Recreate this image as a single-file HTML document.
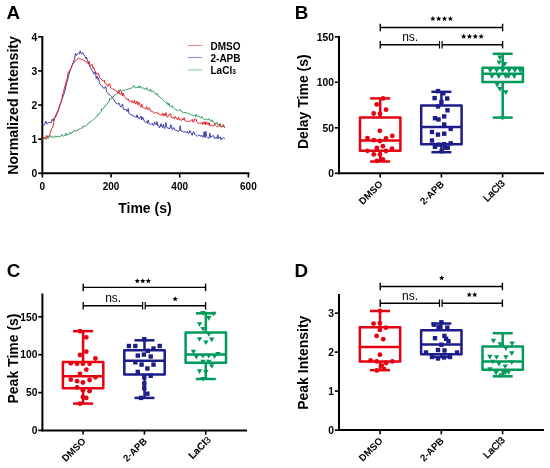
<!DOCTYPE html>
<html><head><meta charset="utf-8"><style>
html,body{margin:0;padding:0;background:#fff;}
body{width:550px;height:468px;overflow:hidden;}
svg{display:block;font-family:"Liberation Sans", sans-serif;will-change:transform;}
</style></head><body>
<svg width="550" height="468" viewBox="0 0 550 468">
<rect width="550" height="468" fill="#fff"/>
<line x1="42.30" y1="36.00" x2="42.30" y2="174.30" stroke="#000" stroke-width="2.0"/>
<line x1="38.10" y1="36.80" x2="42.30" y2="36.80" stroke="#000" stroke-width="1.6"/>
<text x="37.30" y="40.50" font-size="10.3" font-weight="bold" text-anchor="end" fill="#000">4</text>
<line x1="38.10" y1="70.90" x2="42.30" y2="70.90" stroke="#000" stroke-width="1.6"/>
<text x="37.30" y="74.60" font-size="10.3" font-weight="bold" text-anchor="end" fill="#000">3</text>
<line x1="38.10" y1="105.00" x2="42.30" y2="105.00" stroke="#000" stroke-width="1.6"/>
<text x="37.30" y="108.70" font-size="10.3" font-weight="bold" text-anchor="end" fill="#000">2</text>
<line x1="38.10" y1="139.20" x2="42.30" y2="139.20" stroke="#000" stroke-width="1.6"/>
<text x="37.30" y="142.90" font-size="10.3" font-weight="bold" text-anchor="end" fill="#000">1</text>
<line x1="38.10" y1="173.30" x2="42.30" y2="173.30" stroke="#000" stroke-width="1.6"/>
<text x="37.30" y="177.00" font-size="10.3" font-weight="bold" text-anchor="end" fill="#000">0</text>
<line x1="41.30" y1="173.30" x2="249.40" y2="173.30" stroke="#000" stroke-width="2.0"/>
<line x1="42.40" y1="173.30" x2="42.40" y2="177.50" stroke="#000" stroke-width="1.6"/>
<line x1="111.10" y1="173.30" x2="111.10" y2="177.50" stroke="#000" stroke-width="1.6"/>
<line x1="179.70" y1="173.30" x2="179.70" y2="177.50" stroke="#000" stroke-width="1.6"/>
<line x1="248.40" y1="173.30" x2="248.40" y2="177.50" stroke="#000" stroke-width="1.6"/>
<text x="42.40" y="189.50" font-size="10" font-weight="bold" text-anchor="middle" fill="#000">0</text>
<text x="111.10" y="189.50" font-size="10" font-weight="bold" text-anchor="middle" fill="#000">200</text>
<text x="179.70" y="189.50" font-size="10" font-weight="bold" text-anchor="middle" fill="#000">400</text>
<text x="248.40" y="189.50" font-size="10" font-weight="bold" text-anchor="middle" fill="#000">600</text>
<text x="118.20" y="213.30" font-size="14" font-weight="bold" text-anchor="start" fill="#000">Time (s)</text>
<text x="0.00" y="0.00" font-size="14.2" font-weight="bold" text-anchor="start" fill="#000" transform="translate(17.90,174.80) rotate(-90)">Normalized Intensity</text>
<text x="6.60" y="18.90" font-size="18.8" font-weight="bold" text-anchor="start" fill="#000">A</text>
<line x1="187.80" y1="45.50" x2="202.30" y2="45.50" stroke="#f28890" stroke-width="1.1"/>
<text x="210.50" y="49.50" font-size="10" font-weight="bold" text-anchor="start" fill="#000">DMSO</text>
<line x1="187.80" y1="57.50" x2="202.30" y2="57.50" stroke="#9090dc" stroke-width="1.1"/>
<text x="210.50" y="61.50" font-size="10" font-weight="bold" text-anchor="start" fill="#000">2-APB</text>
<line x1="187.80" y1="69.90" x2="202.30" y2="69.90" stroke="#90d0a0" stroke-width="1.1"/>
<text x="210.50" y="73.90" font-size="10" font-weight="bold" text-anchor="start" fill="#000">LaCl<tspan font-size="6.5" font-weight="bold">3</tspan></text>
<path d="M42.60,139.43 L43.40,139.62 L44.20,137.00 L45.00,138.85 L45.80,138.87 L46.60,139.60 L47.40,136.27 L48.20,138.37 L49.00,137.66 L49.80,136.01 L50.60,135.58 L51.40,137.54 L52.20,137.40 L53.00,136.77 L53.80,136.83 L54.60,137.46 L55.40,135.85 L56.20,136.80 L57.00,136.39 L57.80,136.82 L58.60,136.33 L59.40,136.60 L60.20,136.68 L61.00,135.93 L61.80,134.48 L62.60,135.92 L63.40,136.15 L64.20,135.49 L65.00,135.78 L65.80,133.06 L66.60,135.24 L67.40,134.80 L68.20,134.64 L69.00,134.39 L69.80,132.41 L70.60,133.62 L71.40,133.73 L72.20,132.14 L73.00,132.28 L73.80,130.80 L74.60,130.13 L75.40,131.36 L76.20,130.44 L77.00,131.04 L77.80,129.60 L78.60,129.65 L79.40,128.77 L80.20,128.61 L81.00,127.94 L81.80,128.18 L82.60,127.94 L83.40,125.64 L84.20,126.74 L85.00,126.37 L85.80,126.27 L86.60,125.38 L87.40,124.29 L88.20,123.23 L89.00,122.93 L89.80,121.94 L90.60,121.75 L91.40,121.18 L92.20,120.37 L93.00,120.24 L93.80,119.25 L94.60,118.46 L95.40,117.75 L96.20,117.32 L97.00,116.50 L97.80,114.28 L98.60,114.08 L99.40,113.85 L100.20,112.49 L101.00,111.59 L101.80,108.51 L102.60,109.43 L103.40,108.58 L104.20,106.86 L105.00,106.56 L105.80,105.02 L106.60,104.61 L107.40,103.63 L108.20,102.27 L109.00,101.70 L109.80,98.46 L110.60,99.35 L111.40,98.75 L112.20,97.40 L113.00,96.77 L113.80,96.47 L114.60,95.02 L115.40,94.54 L116.20,94.22 L117.00,93.32 L117.80,93.27 L118.60,92.51 L119.40,92.53 L120.20,89.42 L121.00,91.51 L121.80,91.30 L122.60,90.16 L123.40,90.82 L124.20,90.16 L125.00,90.51 L125.80,89.54 L126.60,89.56 L127.40,89.39 L128.20,89.35 L129.00,88.64 L129.80,88.33 L130.60,88.40 L131.40,88.07 L132.20,87.53 L133.00,86.75 L133.80,85.42 L134.60,87.52 L135.40,87.74 L136.20,87.64 L137.00,87.23 L137.80,87.85 L138.60,85.96 L139.40,87.80 L140.20,86.04 L141.00,87.68 L141.80,87.94 L142.60,87.87 L143.40,88.17 L144.20,88.83 L145.00,88.59 L145.80,89.49 L146.60,87.59 L147.40,89.72 L148.20,90.67 L149.00,90.08 L149.80,91.04 L150.60,89.19 L151.40,91.47 L152.20,91.68 L153.00,90.88 L153.80,91.48 L154.60,92.34 L155.40,93.93 L156.20,94.63 L157.00,93.24 L157.80,95.52 L158.60,95.86 L159.40,96.98 L160.20,97.47 L161.00,98.10 L161.80,98.65 L162.60,99.81 L163.40,100.44 L164.20,101.13 L165.00,102.09 L165.80,102.68 L166.60,103.15 L167.40,102.44 L168.20,105.26 L169.00,103.31 L169.80,106.30 L170.60,106.36 L171.40,106.69 L172.20,105.73 L173.00,107.87 L173.80,108.13 L174.60,108.90 L175.40,109.35 L176.20,109.84 L177.00,109.97 L177.80,110.65 L178.60,110.38 L179.40,110.44 L180.20,109.41 L181.00,111.49 L181.80,111.69 L182.60,112.08 L183.40,112.66 L184.20,113.07 L185.00,112.05 L185.80,112.97 L186.60,112.64 L187.40,113.43 L188.20,113.55 L189.00,113.13 L189.80,114.19 L190.60,114.87 L191.40,114.79 L192.20,114.73 L193.00,115.35 L193.80,115.86 L194.60,115.66 L195.40,116.54 L196.20,114.17 L197.00,116.32 L197.80,116.45 L198.60,115.86 L199.40,116.89 L200.20,117.60 L201.00,118.00 L201.80,116.56 L202.60,118.15 L203.40,118.35 L204.20,119.32 L205.00,119.40 L205.80,119.25 L206.60,119.25 L207.40,119.83 L208.20,119.78 L209.00,118.59 L209.80,120.43 L210.60,121.07 L211.40,121.13 L212.20,119.65 L213.00,122.04 L213.80,121.88 L214.60,123.68 L215.40,123.28 L216.20,123.78 L217.00,122.37 L217.80,124.77 L218.60,124.43 L219.40,125.07 L220.20,123.44 L221.00,126.21 L221.80,126.13 L222.60,126.12 L223.40,126.20 L224.20,126.87 L225.00,126.35" fill="none" stroke="#2a9a60" stroke-width="1.0" stroke-linejoin="round"/>
<path d="M42.60,125.86 L43.40,125.57 L44.20,124.99 L45.00,123.85 L45.80,121.06 L46.60,123.72 L47.40,123.68 L48.20,122.67 L49.00,122.02 L49.80,123.15 L50.60,122.60 L51.40,122.51 L52.20,119.25 L53.00,120.92 L53.80,118.31 L54.60,117.73 L55.40,116.57 L56.20,114.15 L57.00,112.87 L57.80,110.30 L58.60,108.81 L59.40,106.40 L60.20,103.89 L61.00,102.14 L61.80,99.28 L62.60,97.64 L63.40,95.70 L64.20,93.03 L65.00,90.34 L65.80,86.86 L66.60,83.94 L67.40,80.63 L68.20,77.82 L69.00,74.26 L69.80,71.64 L70.60,69.59 L71.40,67.12 L72.20,65.10 L73.00,62.85 L73.80,60.88 L74.60,59.15 L75.40,53.48 L76.20,55.57 L77.00,54.86 L77.80,53.51 L78.60,53.51 L79.40,53.74 L80.20,50.77 L81.00,53.56 L81.80,53.85 L82.60,52.33 L83.40,54.36 L84.20,55.03 L85.00,56.36 L85.80,58.52 L86.60,57.22 L87.40,60.69 L88.20,62.37 L89.00,64.62 L89.80,65.96 L90.60,67.91 L91.40,68.81 L92.20,70.49 L93.00,72.34 L93.80,74.14 L94.60,72.19 L95.40,71.66 L96.20,78.46 L97.00,76.15 L97.80,79.27 L98.60,78.38 L99.40,82.84 L100.20,84.53 L101.00,84.79 L101.80,85.67 L102.60,86.98 L103.40,88.06 L104.20,88.39 L105.00,87.10 L105.80,86.78 L106.60,91.62 L107.40,92.67 L108.20,93.53 L109.00,94.63 L109.80,94.90 L110.60,95.63 L111.40,96.51 L112.20,96.99 L113.00,98.72 L113.80,99.69 L114.60,101.21 L115.40,102.23 L116.20,103.46 L117.00,103.61 L117.80,104.47 L118.60,103.04 L119.40,103.36 L120.20,106.25 L121.00,107.13 L121.80,105.79 L122.60,103.91 L123.40,109.42 L124.20,109.15 L125.00,109.79 L125.80,108.98 L126.60,111.10 L127.40,111.37 L128.20,108.47 L129.00,113.63 L129.80,113.91 L130.60,114.33 L131.40,115.31 L132.20,114.75 L133.00,115.92 L133.80,116.27 L134.60,116.29 L135.40,116.89 L136.20,117.63 L137.00,114.82 L137.80,117.84 L138.60,117.37 L139.40,119.18 L140.20,117.58 L141.00,116.03 L141.80,120.01 L142.60,117.09 L143.40,118.33 L144.20,121.12 L145.00,121.61 L145.80,122.64 L146.60,121.56 L147.40,123.29 L148.20,119.91 L149.00,123.71 L149.80,123.97 L150.60,124.83 L151.40,124.18 L152.20,123.36 L153.00,125.44 L153.80,124.99 L154.60,121.92 L155.40,124.34 L156.20,124.89 L157.00,121.62 L157.80,125.81 L158.60,125.10 L159.40,127.93 L160.20,126.85 L161.00,123.65 L161.80,126.37 L162.60,127.56 L163.40,124.16 L164.20,128.16 L165.00,128.44 L165.80,122.51 L166.60,126.90 L167.40,127.23 L168.20,128.66 L169.00,127.84 L169.80,129.01 L170.60,124.95 L171.40,125.29 L172.20,129.62 L173.00,129.07 L173.80,127.54 L174.60,129.80 L175.40,130.21 L176.20,130.50 L177.00,130.10 L177.80,131.34 L178.60,131.33 L179.40,130.79 L180.20,125.76 L181.00,131.22 L181.80,131.08 L182.60,131.07 L183.40,132.25 L184.20,132.07 L185.00,131.34 L185.80,132.45 L186.60,132.71 L187.40,131.35 L188.20,133.53 L189.00,133.36 L189.80,130.45 L190.60,131.44 L191.40,133.67 L192.20,135.42 L193.00,132.10 L193.80,131.75 L194.60,134.51 L195.40,134.43 L196.20,135.25 L197.00,136.41 L197.80,135.76 L198.60,135.21 L199.40,134.97 L200.20,136.05 L201.00,136.26 L201.80,135.23 L202.60,137.12 L203.40,136.75 L204.20,131.76 L205.00,137.63 L205.80,131.27 L206.60,136.63 L207.40,137.41 L208.20,138.39 L209.00,138.06 L209.80,133.07 L210.60,137.70 L211.40,136.15 L212.20,136.56 L213.00,135.36 L213.80,136.23 L214.60,138.77 L215.40,137.95 L216.20,137.20 L217.00,138.69 L217.80,134.73 L218.60,138.67 L219.40,137.95 L220.20,136.80 L221.00,139.73 L221.80,138.10 L222.60,138.16 L223.40,137.91 L224.20,138.18 L225.00,138.96" fill="none" stroke="#3a3aa8" stroke-width="1.0" stroke-linejoin="round"/>
<path d="M42.60,139.89 L43.40,137.21 L44.20,138.42 L45.00,137.56 L45.80,138.30 L46.60,135.25 L47.40,137.37 L48.20,136.83 L49.00,135.67 L49.80,134.01 L50.60,132.10 L51.40,128.77 L52.20,128.17 L53.00,126.41 L53.80,122.65 L54.60,116.87 L55.40,117.40 L56.20,115.93 L57.00,114.24 L57.80,111.75 L58.60,109.43 L59.40,106.64 L60.20,104.92 L61.00,102.55 L61.80,99.80 L62.60,94.16 L63.40,92.76 L64.20,88.90 L65.00,86.02 L65.80,82.93 L66.60,80.05 L67.40,77.75 L68.20,71.95 L69.00,72.20 L69.80,70.14 L70.60,68.41 L71.40,67.27 L72.20,65.05 L73.00,63.97 L73.80,63.12 L74.60,61.36 L75.40,60.70 L76.20,60.43 L77.00,59.20 L77.80,58.86 L78.60,58.21 L79.40,58.53 L80.20,58.88 L81.00,59.21 L81.80,59.70 L82.60,59.46 L83.40,60.56 L84.20,60.77 L85.00,61.44 L85.80,61.49 L86.60,62.25 L87.40,63.15 L88.20,63.35 L89.00,61.00 L89.80,64.60 L90.60,65.75 L91.40,65.22 L92.20,64.20 L93.00,68.32 L93.80,67.11 L94.60,70.77 L95.40,71.64 L96.20,72.85 L97.00,73.94 L97.80,74.29 L98.60,73.34 L99.40,77.49 L100.20,77.98 L101.00,79.12 L101.80,79.69 L102.60,80.60 L103.40,81.11 L104.20,80.11 L105.00,83.40 L105.80,83.50 L106.60,84.18 L107.40,85.93 L108.20,86.09 L109.00,83.48 L109.80,84.21 L110.60,87.70 L111.40,88.22 L112.20,88.51 L113.00,89.50 L113.80,89.05 L114.60,90.31 L115.40,90.75 L116.20,90.38 L117.00,91.58 L117.80,93.12 L118.60,90.21 L119.40,94.05 L120.20,93.64 L121.00,94.65 L121.80,91.98 L122.60,96.04 L123.40,93.39 L124.20,96.53 L125.00,97.25 L125.80,98.03 L126.60,99.36 L127.40,99.49 L128.20,98.75 L129.00,101.10 L129.80,101.42 L130.60,101.39 L131.40,102.38 L132.20,100.51 L133.00,102.78 L133.80,102.66 L134.60,100.22 L135.40,104.09 L136.20,103.08 L137.00,101.12 L137.80,105.14 L138.60,102.62 L139.40,102.52 L140.20,105.75 L141.00,107.25 L141.80,104.24 L142.60,106.77 L143.40,108.06 L144.20,108.14 L145.00,108.47 L145.80,108.97 L146.60,106.64 L147.40,109.55 L148.20,109.49 L149.00,107.65 L149.80,108.77 L150.60,111.20 L151.40,110.93 L152.20,111.81 L153.00,111.80 L153.80,112.49 L154.60,113.02 L155.40,112.47 L156.20,112.94 L157.00,112.48 L157.80,113.98 L158.60,113.21 L159.40,114.47 L160.20,114.72 L161.00,115.22 L161.80,115.18 L162.60,112.99 L163.40,116.06 L164.20,113.60 L165.00,115.89 L165.80,112.61 L166.60,115.27 L167.40,117.19 L168.20,116.64 L169.00,114.93 L169.80,113.90 L170.60,113.76 L171.40,117.58 L172.20,117.63 L173.00,118.08 L173.80,117.11 L174.60,118.77 L175.40,116.48 L176.20,117.86 L177.00,119.19 L177.80,119.99 L178.60,116.99 L179.40,119.70 L180.20,119.84 L181.00,119.90 L181.80,120.31 L182.60,118.61 L183.40,119.94 L184.20,117.62 L185.00,120.91 L185.80,120.96 L186.60,121.33 L187.40,121.62 L188.20,121.11 L189.00,120.90 L189.80,121.54 L190.60,121.30 L191.40,120.50 L192.20,119.26 L193.00,122.09 L193.80,122.11 L194.60,119.09 L195.40,119.02 L196.20,119.22 L197.00,122.41 L197.80,123.31 L198.60,123.55 L199.40,123.22 L200.20,123.19 L201.00,123.27 L201.80,122.30 L202.60,124.48 L203.40,121.98 L204.20,124.24 L205.00,121.52 L205.80,124.91 L206.60,122.14 L207.40,122.81 L208.20,124.88 L209.00,122.39 L209.80,125.85 L210.60,125.85 L211.40,124.90 L212.20,126.07 L213.00,125.44 L213.80,125.91 L214.60,123.09 L215.40,125.39 L216.20,126.02 L217.00,126.56 L217.80,126.69 L218.60,126.24 L219.40,124.38 L220.20,126.48 L221.00,126.89 L221.80,126.77 L222.60,126.69 L223.40,124.44 L224.20,127.23 L225.00,127.47" fill="none" stroke="#e8202a" stroke-width="1.0" stroke-linejoin="round"/>
<line x1="339.00" y1="36.10" x2="339.00" y2="174.30" stroke="#000" stroke-width="2.0"/>
<line x1="334.80" y1="36.90" x2="339.00" y2="36.90" stroke="#000" stroke-width="1.6"/>
<text x="334.00" y="40.60" font-size="10.3" font-weight="bold" text-anchor="end" fill="#000">150</text>
<line x1="334.80" y1="82.30" x2="339.00" y2="82.30" stroke="#000" stroke-width="1.6"/>
<text x="334.00" y="86.00" font-size="10.3" font-weight="bold" text-anchor="end" fill="#000">100</text>
<line x1="334.80" y1="127.80" x2="339.00" y2="127.80" stroke="#000" stroke-width="1.6"/>
<text x="334.00" y="131.50" font-size="10.3" font-weight="bold" text-anchor="end" fill="#000">50</text>
<line x1="334.80" y1="173.30" x2="339.00" y2="173.30" stroke="#000" stroke-width="1.6"/>
<text x="334.00" y="177.00" font-size="10.3" font-weight="bold" text-anchor="end" fill="#000">0</text>
<line x1="338.00" y1="173.30" x2="544.00" y2="173.30" stroke="#000" stroke-width="2.0"/>
<line x1="380.20" y1="173.30" x2="380.20" y2="177.50" stroke="#000" stroke-width="1.6"/>
<line x1="441.40" y1="173.30" x2="441.40" y2="177.50" stroke="#000" stroke-width="1.6"/>
<line x1="502.60" y1="173.30" x2="502.60" y2="177.50" stroke="#000" stroke-width="1.6"/>
<text x="0.00" y="0.00" font-size="9.7" font-weight="bold" text-anchor="end" fill="#000" transform="translate(383.40,184.70) rotate(-45)">DMSO</text>
<text x="0.00" y="0.00" font-size="9.7" font-weight="bold" text-anchor="end" fill="#000" transform="translate(444.60,184.70) rotate(-45)">2-APB</text>
<text x="0.00" y="0.00" font-size="10" font-weight="normal" text-anchor="end" fill="#000" transform="translate(505.60,183.90) rotate(-45)" stroke="#000" stroke-width="0.35">LaCl<tspan font-size="9.5">3</tspan></text>
<text x="0.00" y="0.00" font-size="14" font-weight="bold" text-anchor="start" fill="#000" transform="translate(307.80,149.00) rotate(-90)">Delay Time (s)</text>
<text x="294.80" y="18.70" font-size="18.8" font-weight="bold" text-anchor="start" fill="#000">B</text>
<line x1="380.20" y1="98.40" x2="380.20" y2="117.60" stroke="#e60012" stroke-width="2.5"/>
<line x1="380.20" y1="150.80" x2="380.20" y2="161.50" stroke="#e60012" stroke-width="2.5"/>
<line x1="370.20" y1="98.40" x2="390.20" y2="98.40" stroke="#e60012" stroke-width="2.5"/>
<line x1="370.20" y1="161.50" x2="390.20" y2="161.50" stroke="#e60012" stroke-width="2.5"/>
<rect x="360.00" y="117.60" width="40.40" height="33.20" fill="none" stroke="#e60012" stroke-width="2.5" stroke-linejoin="round"/>
<line x1="360.00" y1="140.60" x2="400.40" y2="140.60" stroke="#e60012" stroke-width="2.5"/>
<circle cx="383.10" cy="98.40" r="2.4" fill="#e60012"/>
<circle cx="376.70" cy="104.40" r="2.4" fill="#e60012"/>
<circle cx="386.00" cy="109.70" r="2.4" fill="#e60012"/>
<circle cx="373.70" cy="113.50" r="2.4" fill="#e60012"/>
<circle cx="380.00" cy="113.80" r="2.4" fill="#e60012"/>
<circle cx="379.80" cy="130.80" r="2.4" fill="#e60012"/>
<circle cx="392.30" cy="135.90" r="2.4" fill="#e60012"/>
<circle cx="367.50" cy="138.10" r="2.4" fill="#e60012"/>
<circle cx="373.75" cy="140.20" r="2.4" fill="#e60012"/>
<circle cx="379.80" cy="141.00" r="2.4" fill="#e60012"/>
<circle cx="386.00" cy="138.50" r="2.4" fill="#e60012"/>
<circle cx="382.90" cy="146.20" r="2.4" fill="#e60012"/>
<circle cx="376.90" cy="147.90" r="2.4" fill="#e60012"/>
<circle cx="392.00" cy="148.70" r="2.4" fill="#e60012"/>
<circle cx="367.50" cy="150.80" r="2.4" fill="#e60012"/>
<circle cx="386.00" cy="151.00" r="2.4" fill="#e60012"/>
<circle cx="373.75" cy="154.40" r="2.4" fill="#e60012"/>
<circle cx="380.00" cy="154.40" r="2.4" fill="#e60012"/>
<circle cx="376.90" cy="160.90" r="2.4" fill="#e60012"/>
<circle cx="382.90" cy="159.40" r="2.4" fill="#e60012"/>
<line x1="441.40" y1="91.80" x2="441.40" y2="105.50" stroke="#1d1d8a" stroke-width="2.5"/>
<line x1="441.40" y1="144.30" x2="441.40" y2="152.20" stroke="#1d1d8a" stroke-width="2.5"/>
<line x1="431.40" y1="91.80" x2="451.40" y2="91.80" stroke="#1d1d8a" stroke-width="2.5"/>
<line x1="431.40" y1="152.20" x2="451.40" y2="152.20" stroke="#1d1d8a" stroke-width="2.5"/>
<rect x="421.20" y="105.50" width="40.40" height="38.80" fill="none" stroke="#1d1d8a" stroke-width="2.5" stroke-linejoin="round"/>
<line x1="421.20" y1="127.00" x2="461.60" y2="127.00" stroke="#1d1d8a" stroke-width="2.5"/>
<rect x="435.80" y="88.90" width="4.4" height="4.4" fill="#1d1d8a"/>
<rect x="441.10" y="91.10" width="4.4" height="4.4" fill="#1d1d8a"/>
<rect x="432.40" y="95.90" width="4.4" height="4.4" fill="#1d1d8a"/>
<rect x="445.00" y="96.30" width="4.4" height="4.4" fill="#1d1d8a"/>
<rect x="439.20" y="99.80" width="4.4" height="4.4" fill="#1d1d8a"/>
<rect x="435.80" y="104.20" width="4.4" height="4.4" fill="#1d1d8a"/>
<rect x="445.30" y="108.10" width="4.4" height="4.4" fill="#1d1d8a"/>
<rect x="442.00" y="114.20" width="4.4" height="4.4" fill="#1d1d8a"/>
<rect x="432.80" y="116.00" width="4.4" height="4.4" fill="#1d1d8a"/>
<rect x="436.30" y="117.30" width="4.4" height="4.4" fill="#1d1d8a"/>
<rect x="442.00" y="122.30" width="4.4" height="4.4" fill="#1d1d8a"/>
<rect x="448.50" y="126.70" width="4.4" height="4.4" fill="#1d1d8a"/>
<rect x="429.80" y="129.80" width="4.4" height="4.4" fill="#1d1d8a"/>
<rect x="435.80" y="132.40" width="4.4" height="4.4" fill="#1d1d8a"/>
<rect x="442.00" y="131.50" width="4.4" height="4.4" fill="#1d1d8a"/>
<rect x="429.80" y="138.30" width="4.4" height="4.4" fill="#1d1d8a"/>
<rect x="432.80" y="142.80" width="4.4" height="4.4" fill="#1d1d8a"/>
<rect x="436.80" y="142.40" width="4.4" height="4.4" fill="#1d1d8a"/>
<rect x="442.00" y="142.00" width="4.4" height="4.4" fill="#1d1d8a"/>
<rect x="448.50" y="141.10" width="4.4" height="4.4" fill="#1d1d8a"/>
<rect x="432.80" y="144.60" width="4.4" height="4.4" fill="#1d1d8a"/>
<rect x="442.80" y="145.50" width="4.4" height="4.4" fill="#1d1d8a"/>
<rect x="445.50" y="145.50" width="4.4" height="4.4" fill="#1d1d8a"/>
<rect x="439.40" y="149.00" width="4.4" height="4.4" fill="#1d1d8a"/>
<line x1="502.70" y1="53.80" x2="502.70" y2="67.70" stroke="#009a5a" stroke-width="2.5"/>
<line x1="502.70" y1="81.90" x2="502.70" y2="117.60" stroke="#009a5a" stroke-width="2.5"/>
<line x1="492.70" y1="53.80" x2="512.70" y2="53.80" stroke="#009a5a" stroke-width="2.5"/>
<line x1="492.70" y1="117.60" x2="512.70" y2="117.60" stroke="#009a5a" stroke-width="2.5"/>
<rect x="482.50" y="67.70" width="40.40" height="14.20" fill="none" stroke="#009a5a" stroke-width="2.5" stroke-linejoin="round"/>
<line x1="482.50" y1="73.80" x2="522.90" y2="73.80" stroke="#009a5a" stroke-width="2.5"/>
<path d="M497.20,55.60 L502.60,55.60 L499.90,60.20 Z" fill="#009a5a"/>
<path d="M496.50,60.40 L501.90,60.40 L499.20,65.00 Z" fill="#009a5a"/>
<path d="M502.00,62.00 L507.40,62.00 L504.70,66.60 Z" fill="#009a5a"/>
<path d="M487.60,68.40 L493.00,68.40 L490.30,73.00 Z" fill="#009a5a"/>
<path d="M494.00,68.40 L499.40,68.40 L496.70,73.00 Z" fill="#009a5a"/>
<path d="M499.90,68.40 L505.30,68.40 L502.60,73.00 Z" fill="#009a5a"/>
<path d="M506.30,68.40 L511.70,68.40 L509.00,73.00 Z" fill="#009a5a"/>
<path d="M512.20,68.40 L517.60,68.40 L514.90,73.00 Z" fill="#009a5a"/>
<path d="M517.50,68.40 L522.90,68.40 L520.20,73.00 Z" fill="#009a5a"/>
<path d="M489.20,74.30 L494.60,74.30 L491.90,78.90 Z" fill="#009a5a"/>
<path d="M496.10,74.30 L501.50,74.30 L498.80,78.90 Z" fill="#009a5a"/>
<path d="M503.10,74.30 L508.50,74.30 L505.80,78.90 Z" fill="#009a5a"/>
<path d="M505.70,74.30 L511.10,74.30 L508.40,78.90 Z" fill="#009a5a"/>
<path d="M511.60,74.30 L517.00,74.30 L514.30,78.90 Z" fill="#009a5a"/>
<path d="M494.50,82.80 L499.90,82.80 L497.20,87.40 Z" fill="#009a5a"/>
<path d="M497.20,87.10 L502.60,87.10 L499.90,91.70 Z" fill="#009a5a"/>
<path d="M503.10,90.30 L508.50,90.30 L505.80,94.90 Z" fill="#009a5a"/>
<path d="M499.90,115.90 L505.30,115.90 L502.60,120.50 Z" fill="#009a5a"/>
<line x1="380.30" y1="27.50" x2="502.60" y2="27.50" stroke="#000" stroke-width="1.4"/>
<line x1="380.30" y1="23.75" x2="380.30" y2="31.25" stroke="#000" stroke-width="1.4"/>
<line x1="502.60" y1="23.75" x2="502.60" y2="31.25" stroke="#000" stroke-width="1.4"/>
<line x1="380.30" y1="44.70" x2="439.50" y2="44.70" stroke="#000" stroke-width="1.4"/>
<line x1="442.10" y1="44.70" x2="502.60" y2="44.70" stroke="#000" stroke-width="1.4"/>
<line x1="380.30" y1="41.00" x2="380.30" y2="48.40" stroke="#000" stroke-width="1.4"/>
<line x1="502.60" y1="41.00" x2="502.60" y2="48.40" stroke="#000" stroke-width="1.4"/>
<line x1="439.50" y1="40.90" x2="439.50" y2="48.50" stroke="#000" stroke-width="1.2"/>
<line x1="442.10" y1="40.90" x2="442.10" y2="48.50" stroke="#000" stroke-width="1.2"/>
<text x="410.15" y="41.10" font-size="12" font-weight="normal" text-anchor="middle" fill="#000">ns.</text>
<polygon points="432.81,15.90 433.55,17.68 435.47,17.83 434.01,19.09 434.46,20.97 432.81,19.96 431.16,20.97 431.61,19.09 430.15,17.83 432.07,17.68" fill="#000"/>
<polygon points="438.67,15.90 439.41,17.68 441.33,17.83 439.87,19.09 440.32,20.97 438.67,19.96 437.02,20.97 437.47,19.09 436.01,17.83 437.93,17.68" fill="#000"/>
<polygon points="444.53,15.90 445.27,17.68 447.19,17.83 445.73,19.09 446.18,20.97 444.53,19.96 442.88,20.97 443.33,19.09 441.87,17.83 443.79,17.68" fill="#000"/>
<polygon points="450.39,15.90 451.13,17.68 453.05,17.83 451.59,19.09 452.04,20.97 450.39,19.96 448.74,20.97 449.19,19.09 447.73,17.83 449.65,17.68" fill="#000"/>
<polygon points="463.65,33.70 464.40,35.48 466.32,35.63 464.85,36.89 465.30,38.77 463.65,37.76 462.01,38.77 462.46,36.89 460.99,35.63 462.91,35.48" fill="#000"/>
<polygon points="469.48,33.70 470.23,35.48 472.15,35.63 470.68,36.89 471.13,38.77 469.48,37.76 467.84,38.77 468.29,36.89 466.82,35.63 468.74,35.48" fill="#000"/>
<polygon points="475.31,33.70 476.06,35.48 477.98,35.63 476.51,36.89 476.96,38.77 475.31,37.76 473.67,38.77 474.12,36.89 472.65,35.63 474.57,35.48" fill="#000"/>
<polygon points="481.14,33.70 481.89,35.48 483.81,35.63 482.34,36.89 482.79,38.77 481.14,37.76 479.50,38.77 479.95,36.89 478.48,35.63 480.40,35.48" fill="#000"/>
<line x1="42.40" y1="293.50" x2="42.40" y2="431.40" stroke="#000" stroke-width="2.0"/>
<line x1="38.20" y1="316.80" x2="42.40" y2="316.80" stroke="#000" stroke-width="1.6"/>
<text x="37.40" y="320.50" font-size="10.3" font-weight="bold" text-anchor="end" fill="#000">150</text>
<line x1="38.20" y1="354.70" x2="42.40" y2="354.70" stroke="#000" stroke-width="1.6"/>
<text x="37.40" y="358.40" font-size="10.3" font-weight="bold" text-anchor="end" fill="#000">100</text>
<line x1="38.20" y1="392.60" x2="42.40" y2="392.60" stroke="#000" stroke-width="1.6"/>
<text x="37.40" y="396.30" font-size="10.3" font-weight="bold" text-anchor="end" fill="#000">50</text>
<line x1="38.20" y1="430.40" x2="42.40" y2="430.40" stroke="#000" stroke-width="1.6"/>
<text x="37.40" y="434.10" font-size="10.3" font-weight="bold" text-anchor="end" fill="#000">0</text>
<line x1="41.40" y1="430.40" x2="247.00" y2="430.40" stroke="#000" stroke-width="2.0"/>
<line x1="83.10" y1="430.40" x2="83.10" y2="434.60" stroke="#000" stroke-width="1.6"/>
<line x1="144.40" y1="430.40" x2="144.40" y2="434.60" stroke="#000" stroke-width="1.6"/>
<line x1="205.70" y1="430.40" x2="205.70" y2="434.60" stroke="#000" stroke-width="1.6"/>
<text x="0.00" y="0.00" font-size="9.7" font-weight="bold" text-anchor="end" fill="#000" transform="translate(86.30,441.80) rotate(-45)">DMSO</text>
<text x="0.00" y="0.00" font-size="9.7" font-weight="bold" text-anchor="end" fill="#000" transform="translate(147.60,441.80) rotate(-45)">2-APB</text>
<text x="0.00" y="0.00" font-size="10" font-weight="bold" text-anchor="end" fill="#000" transform="translate(211.60,440.40) rotate(-45)" stroke="#000" stroke-width="0.15">LaCl<tspan font-size="9.5" font-weight="normal">3</tspan></text>
<text x="0.00" y="0.00" font-size="14" font-weight="bold" text-anchor="start" fill="#000" transform="translate(18.00,403.50) rotate(-90)">Peak Time (s)</text>
<text x="6.80" y="276.50" font-size="18.8" font-weight="bold" text-anchor="start" fill="#000">C</text>
<line x1="83.10" y1="331.20" x2="83.10" y2="361.90" stroke="#e60012" stroke-width="2.5"/>
<line x1="83.10" y1="388.30" x2="83.10" y2="403.60" stroke="#e60012" stroke-width="2.5"/>
<line x1="73.10" y1="331.20" x2="93.10" y2="331.20" stroke="#e60012" stroke-width="2.5"/>
<line x1="73.10" y1="403.60" x2="93.10" y2="403.60" stroke="#e60012" stroke-width="2.5"/>
<rect x="62.90" y="361.90" width="40.40" height="26.40" fill="none" stroke="#e60012" stroke-width="2.5" stroke-linejoin="round"/>
<line x1="62.90" y1="376.20" x2="103.30" y2="376.20" stroke="#e60012" stroke-width="2.5"/>
<circle cx="80.00" cy="331.20" r="2.4" fill="#e60012"/>
<circle cx="86.30" cy="337.30" r="2.4" fill="#e60012"/>
<circle cx="86.30" cy="351.70" r="2.4" fill="#e60012"/>
<circle cx="80.00" cy="355.00" r="2.4" fill="#e60012"/>
<circle cx="95.40" cy="358.50" r="2.4" fill="#e60012"/>
<circle cx="70.80" cy="363.30" r="2.4" fill="#e60012"/>
<circle cx="77.10" cy="363.80" r="2.4" fill="#e60012"/>
<circle cx="82.90" cy="363.80" r="2.4" fill="#e60012"/>
<circle cx="89.60" cy="363.80" r="2.4" fill="#e60012"/>
<circle cx="86.30" cy="369.60" r="2.4" fill="#e60012"/>
<circle cx="80.00" cy="373.80" r="2.4" fill="#e60012"/>
<circle cx="70.80" cy="379.60" r="2.4" fill="#e60012"/>
<circle cx="77.10" cy="381.20" r="2.4" fill="#e60012"/>
<circle cx="82.90" cy="382.50" r="2.4" fill="#e60012"/>
<circle cx="89.60" cy="380.00" r="2.4" fill="#e60012"/>
<circle cx="95.40" cy="377.30" r="2.4" fill="#e60012"/>
<circle cx="77.10" cy="387.30" r="2.4" fill="#e60012"/>
<circle cx="82.90" cy="390.20" r="2.4" fill="#e60012"/>
<circle cx="89.60" cy="391.20" r="2.4" fill="#e60012"/>
<circle cx="82.90" cy="396.90" r="2.4" fill="#e60012"/>
<circle cx="86.30" cy="397.90" r="2.4" fill="#e60012"/>
<circle cx="80.00" cy="403.70" r="2.4" fill="#e60012"/>
<line x1="144.50" y1="340.30" x2="144.50" y2="350.20" stroke="#1d1d8a" stroke-width="2.5"/>
<line x1="144.50" y1="374.40" x2="144.50" y2="397.90" stroke="#1d1d8a" stroke-width="2.5"/>
<line x1="134.50" y1="340.30" x2="154.50" y2="340.30" stroke="#1d1d8a" stroke-width="2.5"/>
<line x1="134.50" y1="397.90" x2="154.50" y2="397.90" stroke="#1d1d8a" stroke-width="2.5"/>
<rect x="124.30" y="350.20" width="40.40" height="24.20" fill="none" stroke="#1d1d8a" stroke-width="2.5" stroke-linejoin="round"/>
<line x1="124.30" y1="360.80" x2="164.70" y2="360.80" stroke="#1d1d8a" stroke-width="2.5"/>
<rect x="142.10" y="337.00" width="4.4" height="4.4" fill="#1d1d8a"/>
<rect x="126.70" y="343.80" width="4.4" height="4.4" fill="#1d1d8a"/>
<rect x="133.10" y="343.80" width="4.4" height="4.4" fill="#1d1d8a"/>
<rect x="151.30" y="346.30" width="4.4" height="4.4" fill="#1d1d8a"/>
<rect x="157.50" y="343.80" width="4.4" height="4.4" fill="#1d1d8a"/>
<rect x="145.60" y="348.60" width="4.4" height="4.4" fill="#1d1d8a"/>
<rect x="135.60" y="353.40" width="4.4" height="4.4" fill="#1d1d8a"/>
<rect x="141.70" y="352.40" width="4.4" height="4.4" fill="#1d1d8a"/>
<rect x="148.50" y="354.30" width="4.4" height="4.4" fill="#1d1d8a"/>
<rect x="133.10" y="360.10" width="4.4" height="4.4" fill="#1d1d8a"/>
<rect x="139.40" y="362.40" width="4.4" height="4.4" fill="#1d1d8a"/>
<rect x="145.20" y="366.30" width="4.4" height="4.4" fill="#1d1d8a"/>
<rect x="151.30" y="362.40" width="4.4" height="4.4" fill="#1d1d8a"/>
<rect x="135.60" y="369.70" width="4.4" height="4.4" fill="#1d1d8a"/>
<rect x="142.10" y="375.10" width="4.4" height="4.4" fill="#1d1d8a"/>
<rect x="148.50" y="373.60" width="4.4" height="4.4" fill="#1d1d8a"/>
<rect x="142.10" y="381.30" width="4.4" height="4.4" fill="#1d1d8a"/>
<rect x="142.10" y="386.10" width="4.4" height="4.4" fill="#1d1d8a"/>
<rect x="145.20" y="391.50" width="4.4" height="4.4" fill="#1d1d8a"/>
<rect x="138.80" y="395.70" width="4.4" height="4.4" fill="#1d1d8a"/>
<line x1="205.80" y1="313.30" x2="205.80" y2="332.50" stroke="#009a5a" stroke-width="2.5"/>
<line x1="205.80" y1="362.70" x2="205.80" y2="379.00" stroke="#009a5a" stroke-width="2.5"/>
<line x1="195.80" y1="313.30" x2="215.80" y2="313.30" stroke="#009a5a" stroke-width="2.5"/>
<line x1="195.80" y1="379.00" x2="215.80" y2="379.00" stroke="#009a5a" stroke-width="2.5"/>
<rect x="185.60" y="332.50" width="40.40" height="30.20" fill="none" stroke="#009a5a" stroke-width="2.5" stroke-linejoin="round"/>
<line x1="185.60" y1="354.60" x2="226.00" y2="354.60" stroke="#009a5a" stroke-width="2.5"/>
<path d="M200.30,311.10 L205.70,311.10 L203.00,315.70 Z" fill="#009a5a"/>
<path d="M210.90,311.70 L216.30,311.70 L213.60,316.30 Z" fill="#009a5a"/>
<path d="M206.10,316.10 L211.50,316.10 L208.80,320.70 Z" fill="#009a5a"/>
<path d="M196.80,322.20 L202.20,322.20 L199.50,326.80 Z" fill="#009a5a"/>
<path d="M200.30,327.00 L205.70,327.00 L203.00,331.60 Z" fill="#009a5a"/>
<path d="M206.10,332.20 L211.50,332.20 L208.80,336.80 Z" fill="#009a5a"/>
<path d="M196.80,337.20 L202.20,337.20 L199.50,341.80 Z" fill="#009a5a"/>
<path d="M209.00,337.60 L214.40,337.60 L211.70,342.20 Z" fill="#009a5a"/>
<path d="M203.20,340.50 L208.60,340.50 L205.90,345.10 Z" fill="#009a5a"/>
<path d="M190.70,349.70 L196.10,349.70 L193.40,354.30 Z" fill="#009a5a"/>
<path d="M193.60,354.90 L199.00,354.90 L196.30,359.50 Z" fill="#009a5a"/>
<path d="M211.80,354.50 L217.20,354.50 L214.50,359.10 Z" fill="#009a5a"/>
<path d="M215.30,352.00 L220.70,352.00 L218.00,356.60 Z" fill="#009a5a"/>
<path d="M200.30,354.00 L205.70,354.00 L203.00,358.60 Z" fill="#009a5a"/>
<path d="M206.10,354.00 L211.50,354.00 L208.80,358.60 Z" fill="#009a5a"/>
<path d="M200.30,359.70 L205.70,359.70 L203.00,364.30 Z" fill="#009a5a"/>
<path d="M206.10,359.70 L211.50,359.70 L208.80,364.30 Z" fill="#009a5a"/>
<path d="M209.00,364.20 L214.40,364.20 L211.70,368.80 Z" fill="#009a5a"/>
<path d="M196.80,369.30 L202.20,369.30 L199.50,373.90 Z" fill="#009a5a"/>
<path d="M203.20,369.90 L208.60,369.90 L205.90,374.50 Z" fill="#009a5a"/>
<path d="M200.30,377.00 L205.70,377.00 L203.00,381.60 Z" fill="#009a5a"/>
<line x1="83.20" y1="287.40" x2="205.60" y2="287.40" stroke="#000" stroke-width="1.4"/>
<line x1="83.20" y1="283.65" x2="83.20" y2="291.15" stroke="#000" stroke-width="1.4"/>
<line x1="205.60" y1="283.65" x2="205.60" y2="291.15" stroke="#000" stroke-width="1.4"/>
<line x1="83.20" y1="305.80" x2="142.60" y2="305.80" stroke="#000" stroke-width="1.4"/>
<line x1="145.20" y1="305.80" x2="205.60" y2="305.80" stroke="#000" stroke-width="1.4"/>
<line x1="83.20" y1="302.10" x2="83.20" y2="309.50" stroke="#000" stroke-width="1.4"/>
<line x1="205.60" y1="302.10" x2="205.60" y2="309.50" stroke="#000" stroke-width="1.4"/>
<line x1="142.60" y1="302.00" x2="142.60" y2="309.60" stroke="#000" stroke-width="1.2"/>
<line x1="145.20" y1="302.00" x2="145.20" y2="309.60" stroke="#000" stroke-width="1.2"/>
<text x="113.15" y="302.20" font-size="12" font-weight="normal" text-anchor="middle" fill="#000">ns.</text>
<polygon points="137.30,278.30 138.04,280.08 139.96,280.23 138.50,281.49 138.95,283.37 137.30,282.36 135.65,283.37 136.10,281.49 134.64,280.23 136.56,280.08" fill="#000"/>
<polygon points="142.80,278.30 143.54,280.08 145.46,280.23 144.00,281.49 144.45,283.37 142.80,282.36 141.15,283.37 141.60,281.49 140.14,280.23 142.06,280.08" fill="#000"/>
<polygon points="148.30,278.30 149.04,280.08 150.96,280.23 149.50,281.49 149.95,283.37 148.30,282.36 146.65,283.37 147.10,281.49 145.64,280.23 147.56,280.08" fill="#000"/>
<polygon points="175.20,296.30 175.94,298.08 177.86,298.23 176.40,299.49 176.85,301.37 175.20,300.36 173.55,301.37 174.00,299.49 172.54,298.23 174.46,298.08" fill="#000"/>
<line x1="339.00" y1="294.00" x2="339.00" y2="431.10" stroke="#000" stroke-width="2.0"/>
<line x1="334.80" y1="313.10" x2="339.00" y2="313.10" stroke="#000" stroke-width="1.6"/>
<text x="334.00" y="316.80" font-size="10.3" font-weight="bold" text-anchor="end" fill="#000">3</text>
<line x1="334.80" y1="352.10" x2="339.00" y2="352.10" stroke="#000" stroke-width="1.6"/>
<text x="334.00" y="355.80" font-size="10.3" font-weight="bold" text-anchor="end" fill="#000">2</text>
<line x1="334.80" y1="391.10" x2="339.00" y2="391.10" stroke="#000" stroke-width="1.6"/>
<text x="334.00" y="394.80" font-size="10.3" font-weight="bold" text-anchor="end" fill="#000">1</text>
<line x1="334.80" y1="430.10" x2="339.00" y2="430.10" stroke="#000" stroke-width="1.6"/>
<text x="334.00" y="433.80" font-size="10.3" font-weight="bold" text-anchor="end" fill="#000">0</text>
<line x1="338.00" y1="430.10" x2="544.00" y2="430.10" stroke="#000" stroke-width="2.0"/>
<line x1="380.10" y1="430.10" x2="380.10" y2="434.30" stroke="#000" stroke-width="1.6"/>
<line x1="441.30" y1="430.10" x2="441.30" y2="434.30" stroke="#000" stroke-width="1.6"/>
<line x1="502.60" y1="430.10" x2="502.60" y2="434.30" stroke="#000" stroke-width="1.6"/>
<text x="0.00" y="0.00" font-size="9.7" font-weight="bold" text-anchor="end" fill="#000" transform="translate(383.30,441.50) rotate(-45)">DMSO</text>
<text x="0.00" y="0.00" font-size="9.7" font-weight="bold" text-anchor="end" fill="#000" transform="translate(444.50,441.50) rotate(-45)">2-APB</text>
<text x="0.00" y="0.00" font-size="10" font-weight="normal" text-anchor="end" fill="#000" transform="translate(505.60,440.70) rotate(-45)" stroke="#000" stroke-width="0.35">LaCl<tspan font-size="9.5">3</tspan></text>
<text x="0.00" y="0.00" font-size="14" font-weight="bold" text-anchor="start" fill="#000" transform="translate(307.70,409.80) rotate(-90)">Peak Intensity</text>
<text x="294.50" y="276.70" font-size="18.8" font-weight="bold" text-anchor="start" fill="#000">D</text>
<line x1="380.00" y1="311.00" x2="380.00" y2="327.20" stroke="#e60012" stroke-width="2.5"/>
<line x1="380.00" y1="361.60" x2="380.00" y2="370.20" stroke="#e60012" stroke-width="2.5"/>
<line x1="370.00" y1="311.00" x2="390.00" y2="311.00" stroke="#e60012" stroke-width="2.5"/>
<line x1="370.00" y1="370.20" x2="390.00" y2="370.20" stroke="#e60012" stroke-width="2.5"/>
<rect x="359.80" y="327.20" width="40.40" height="34.40" fill="none" stroke="#e60012" stroke-width="2.5" stroke-linejoin="round"/>
<line x1="359.80" y1="346.90" x2="400.20" y2="346.90" stroke="#e60012" stroke-width="2.5"/>
<circle cx="379.90" cy="310.80" r="2.4" fill="#e60012"/>
<circle cx="373.60" cy="323.60" r="2.4" fill="#e60012"/>
<circle cx="379.90" cy="323.20" r="2.4" fill="#e60012"/>
<circle cx="385.90" cy="327.70" r="2.4" fill="#e60012"/>
<circle cx="379.90" cy="329.90" r="2.4" fill="#e60012"/>
<circle cx="376.60" cy="335.90" r="2.4" fill="#e60012"/>
<circle cx="383.20" cy="339.20" r="2.4" fill="#e60012"/>
<circle cx="379.90" cy="354.70" r="2.4" fill="#e60012"/>
<circle cx="370.60" cy="360.30" r="2.4" fill="#e60012"/>
<circle cx="376.70" cy="361.40" r="2.4" fill="#e60012"/>
<circle cx="386.10" cy="363.00" r="2.4" fill="#e60012"/>
<circle cx="392.30" cy="361.40" r="2.4" fill="#e60012"/>
<circle cx="381.80" cy="365.60" r="2.4" fill="#e60012"/>
<circle cx="376.70" cy="370.40" r="2.4" fill="#e60012"/>
<circle cx="384.00" cy="368.80" r="2.4" fill="#e60012"/>
<line x1="441.30" y1="323.50" x2="441.30" y2="330.20" stroke="#1d1d8a" stroke-width="2.5"/>
<line x1="441.30" y1="354.20" x2="441.30" y2="357.00" stroke="#1d1d8a" stroke-width="2.5"/>
<line x1="431.30" y1="323.50" x2="451.30" y2="323.50" stroke="#1d1d8a" stroke-width="2.5"/>
<line x1="431.30" y1="357.00" x2="451.30" y2="357.00" stroke="#1d1d8a" stroke-width="2.5"/>
<rect x="421.10" y="330.20" width="40.40" height="24.00" fill="none" stroke="#1d1d8a" stroke-width="2.5" stroke-linejoin="round"/>
<line x1="421.10" y1="344.60" x2="461.50" y2="344.60" stroke="#1d1d8a" stroke-width="2.5"/>
<rect x="431.60" y="322.50" width="4.4" height="4.4" fill="#1d1d8a"/>
<rect x="439.20" y="320.10" width="4.4" height="4.4" fill="#1d1d8a"/>
<rect x="436.30" y="324.80" width="4.4" height="4.4" fill="#1d1d8a"/>
<rect x="445.10" y="325.40" width="4.4" height="4.4" fill="#1d1d8a"/>
<rect x="442.20" y="333.70" width="4.4" height="4.4" fill="#1d1d8a"/>
<rect x="432.80" y="336.00" width="4.4" height="4.4" fill="#1d1d8a"/>
<rect x="443.90" y="336.60" width="4.4" height="4.4" fill="#1d1d8a"/>
<rect x="446.30" y="338.90" width="4.4" height="4.4" fill="#1d1d8a"/>
<rect x="439.20" y="342.50" width="4.4" height="4.4" fill="#1d1d8a"/>
<rect x="435.80" y="347.80" width="4.4" height="4.4" fill="#1d1d8a"/>
<rect x="442.30" y="348.30" width="4.4" height="4.4" fill="#1d1d8a"/>
<rect x="423.80" y="350.30" width="4.4" height="4.4" fill="#1d1d8a"/>
<rect x="454.80" y="350.30" width="4.4" height="4.4" fill="#1d1d8a"/>
<rect x="429.80" y="354.80" width="4.4" height="4.4" fill="#1d1d8a"/>
<rect x="435.80" y="356.30" width="4.4" height="4.4" fill="#1d1d8a"/>
<rect x="441.80" y="355.30" width="4.4" height="4.4" fill="#1d1d8a"/>
<rect x="447.80" y="354.80" width="4.4" height="4.4" fill="#1d1d8a"/>
<line x1="502.70" y1="333.20" x2="502.70" y2="346.40" stroke="#009a5a" stroke-width="2.5"/>
<line x1="502.70" y1="369.70" x2="502.70" y2="376.30" stroke="#009a5a" stroke-width="2.5"/>
<line x1="492.70" y1="333.20" x2="512.70" y2="333.20" stroke="#009a5a" stroke-width="2.5"/>
<line x1="492.70" y1="376.30" x2="512.70" y2="376.30" stroke="#009a5a" stroke-width="2.5"/>
<rect x="482.50" y="346.40" width="40.40" height="23.30" fill="none" stroke="#009a5a" stroke-width="2.5" stroke-linejoin="round"/>
<line x1="482.50" y1="361.40" x2="522.90" y2="361.40" stroke="#009a5a" stroke-width="2.5"/>
<path d="M490.70,338.80 L496.10,338.80 L493.40,343.40 Z" fill="#009a5a"/>
<path d="M497.60,342.30 L503.00,342.30 L500.30,346.90 Z" fill="#009a5a"/>
<path d="M509.40,341.60 L514.80,341.60 L512.10,346.20 Z" fill="#009a5a"/>
<path d="M503.20,346.50 L508.60,346.50 L505.90,351.10 Z" fill="#009a5a"/>
<path d="M509.10,351.30 L514.50,351.30 L511.80,355.90 Z" fill="#009a5a"/>
<path d="M487.20,354.80 L492.60,354.80 L489.90,359.40 Z" fill="#009a5a"/>
<path d="M493.90,355.20 L499.30,355.20 L496.60,359.80 Z" fill="#009a5a"/>
<path d="M503.20,355.20 L508.60,355.20 L505.90,359.80 Z" fill="#009a5a"/>
<path d="M490.00,359.70 L495.40,359.70 L492.70,364.30 Z" fill="#009a5a"/>
<path d="M496.20,361.80 L501.60,361.80 L498.90,366.40 Z" fill="#009a5a"/>
<path d="M502.50,364.50 L507.90,364.50 L505.20,369.10 Z" fill="#009a5a"/>
<path d="M509.10,360.40 L514.50,360.40 L511.80,365.00 Z" fill="#009a5a"/>
<path d="M487.20,367.30 L492.60,367.30 L489.90,371.90 Z" fill="#009a5a"/>
<path d="M493.40,370.80 L498.80,370.80 L496.10,375.40 Z" fill="#009a5a"/>
<path d="M502.50,370.80 L507.90,370.80 L505.20,375.40 Z" fill="#009a5a"/>
<path d="M505.90,370.10 L511.30,370.10 L508.60,374.70 Z" fill="#009a5a"/>
<path d="M498.30,373.60 L503.70,373.60 L501.00,378.20 Z" fill="#009a5a"/>
<line x1="380.20" y1="286.50" x2="502.40" y2="286.50" stroke="#000" stroke-width="1.4"/>
<line x1="380.20" y1="282.75" x2="380.20" y2="290.25" stroke="#000" stroke-width="1.4"/>
<line x1="502.40" y1="282.75" x2="502.40" y2="290.25" stroke="#000" stroke-width="1.4"/>
<line x1="380.20" y1="303.30" x2="439.50" y2="303.30" stroke="#000" stroke-width="1.4"/>
<line x1="442.10" y1="303.30" x2="502.40" y2="303.30" stroke="#000" stroke-width="1.4"/>
<line x1="380.20" y1="299.60" x2="380.20" y2="307.00" stroke="#000" stroke-width="1.4"/>
<line x1="502.40" y1="299.60" x2="502.40" y2="307.00" stroke="#000" stroke-width="1.4"/>
<line x1="439.50" y1="299.50" x2="439.50" y2="307.10" stroke="#000" stroke-width="1.2"/>
<line x1="442.10" y1="299.50" x2="442.10" y2="307.10" stroke="#000" stroke-width="1.2"/>
<text x="410.10" y="299.70" font-size="12" font-weight="normal" text-anchor="middle" fill="#000">ns.</text>
<polygon points="441.70,275.20 442.44,276.98 444.36,277.13 442.90,278.39 443.35,280.27 441.70,279.26 440.05,280.27 440.50,278.39 439.04,277.13 440.96,276.98" fill="#000"/>
<polygon points="469.25,291.90 469.99,293.68 471.91,293.83 470.45,295.09 470.90,296.97 469.25,295.96 467.60,296.97 468.05,295.09 466.59,293.83 468.51,293.68" fill="#000"/>
<polygon points="474.75,291.90 475.49,293.68 477.41,293.83 475.95,295.09 476.40,296.97 474.75,295.96 473.10,296.97 473.55,295.09 472.09,293.83 474.01,293.68" fill="#000"/>
</svg></body></html>
